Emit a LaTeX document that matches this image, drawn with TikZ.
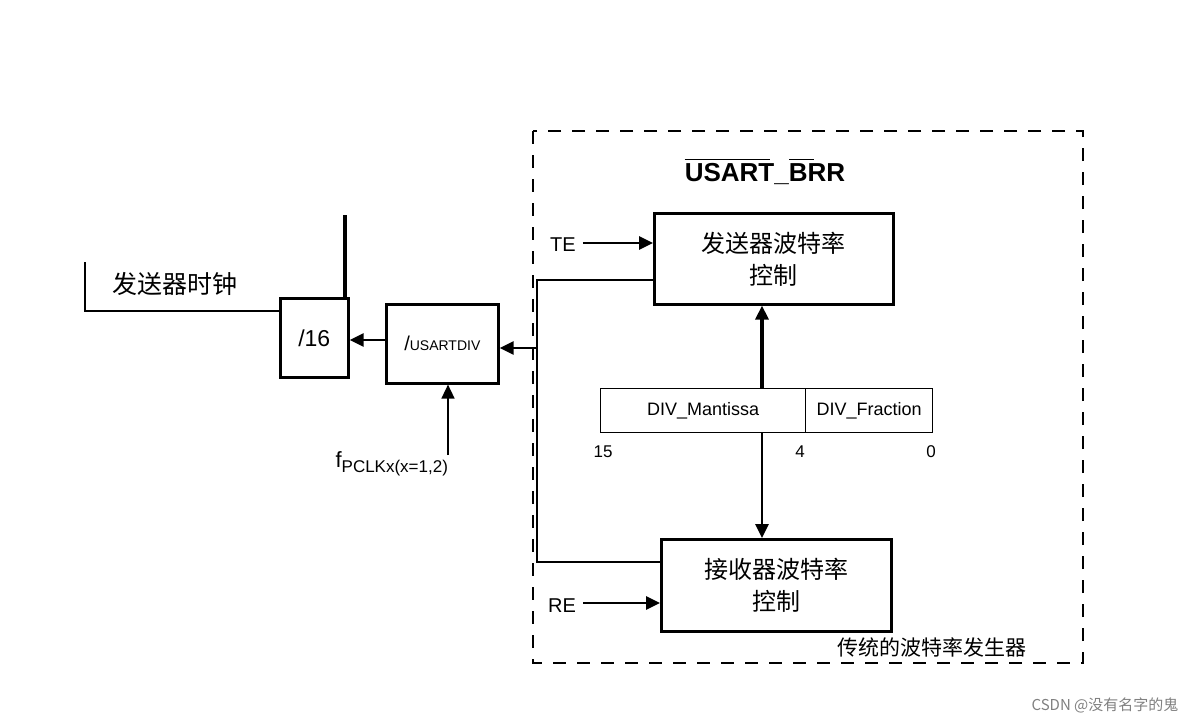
\documentclass[tikz,border=0pt]{standalone}
\usepackage{fontspec}
\setmainfont{Liberation Sans}
\newfontfamily\cjk{Noto Sans CJK SC}
\usetikzlibrary{arrows.meta}
\begin{document}
\begin{tikzpicture}[x=1pt,y=-1pt,
  blk/.style={draw,line width=2.6pt,inner sep=0pt,anchor=north west},
  lbl/.style={font=\fontsize{20}{24}\selectfont,inner sep=0pt},
  cn/.style={font=\cjk\fontsize{24}{32}\selectfont,inner sep=0pt,align=center},
  arr/.style={-{Triangle[length=14pt,width=13pt]},line width=2.6pt}]
\useasboundingbox (0,0) rectangle (1187,726);
% frame
\draw [line width=2.4pt,dash pattern=on 13pt off 11pt] (533,131) rectangle (1083,663);
\node [font=\bfseries\fontsize{26}{30}\selectfont,inner sep=0pt] (brr) at (765,174) {USART\_BRR};
\draw [line width=1pt] (brr.north west) ++(0,-4) -- ++(85,0);
\draw [line width=1pt] (brr.north east) ++(-56,-4) -- ++(25,0);
% boxes
\node [blk,minimum width=239pt,minimum height=91pt] (tx) at (653,212) {};
\node [cn] at (tx.center) {发送器波特率\\控制};
\node [blk,minimum width=230pt,minimum height=92pt] (rx) at (660,538) {};
\node [cn] at (rx.center) {接收器波特率\\控制};
\node [blk,line width=1.4pt,minimum width=205pt,minimum height=44pt] (man) at (600,388) {};
\node [blk,line width=1.4pt,minimum width=127pt,minimum height=44pt] (frac) at (805,388) {};
\node [lbl,font=\fontsize{18}{20}\selectfont] at (man.center) {DIV\_Mantissa};
\node [lbl,font=\fontsize{18}{20}\selectfont] at (frac.center) {DIV\_Fraction};
\node [lbl,font=\fontsize{17}{20}\selectfont] (b15) at (603,452) {15};
\node [lbl,font=\fontsize{17}{20}\selectfont] (b4) at (800,452) {4};
\node [lbl,font=\fontsize{17}{20}\selectfont] (b0) at (931,452) {0};
\node [blk,minimum width=112pt,minimum height=79pt] (div) at (385,303) {};
\node [lbl] at (div.center) {/{\fontsize{14}{16}\selectfont USARTDIV}};
\node [blk,minimum width=68pt,minimum height=79pt] (d16) at (279,297) {};
\node [lbl,font=\fontsize{23}{26}\selectfont] at (d16.center) {/16};
% labels
\node [lbl] (te) at (563,245) {TE};
\node [lbl] (re) at (562,606) {RE};
\node [cn,font=\cjk\fontsize{25}{28}\selectfont] (clk) at (175,284) {发送器时钟};
\node [lbl,font=\fontsize{22}{26}\selectfont] (pclk) at (392,464) {f\textsubscript{\fontsize{17}{20}\selectfont PCLKx(x=1,2)}};
\node [cn,font=\cjk\fontsize{21}{24}\selectfont] (gen) at (932,647) {传统的波特率发生器};
\node [font=\cjk\fontsize{15}{18}\selectfont,text=gray] (mark) at (1105,705) {CSDN @没有名字的鬼};
% connectors
\draw [arr] (te.east) ++(7,-2) coordinate (teo) -- (teo -| tx.west);
\draw [arr] (re.east) ++(7,-3) coordinate (reo) -- (reo -| rx.west);
\draw [arr,line width=3.4pt] (762,388) coordinate (mt) -- (mt |- tx.south);
\draw [arr] (762,432) coordinate (mb) -- (mb |- rx.north);
\draw [line width=1.6pt] (653,280) -- (537,280) -- (537,562) -- (660,562);
\draw [arr] (537,348) coordinate (fb) -- (fb -| div.east);
\draw [arr] (div.west |- 0,340) -- (d16.east |- 0,340);
\draw [line width=1.6pt,-{Triangle[length=14pt,width=13pt]}] (448,455) coordinate (pc) -- (pc |- div.south);
\draw [line width=3.4pt] (345,215) coordinate (top) -- (top |- d16.north);
\draw [line width=2.6pt] (85,262) -- (85,311) -- (279,311);
\end{tikzpicture}
\end{document}
